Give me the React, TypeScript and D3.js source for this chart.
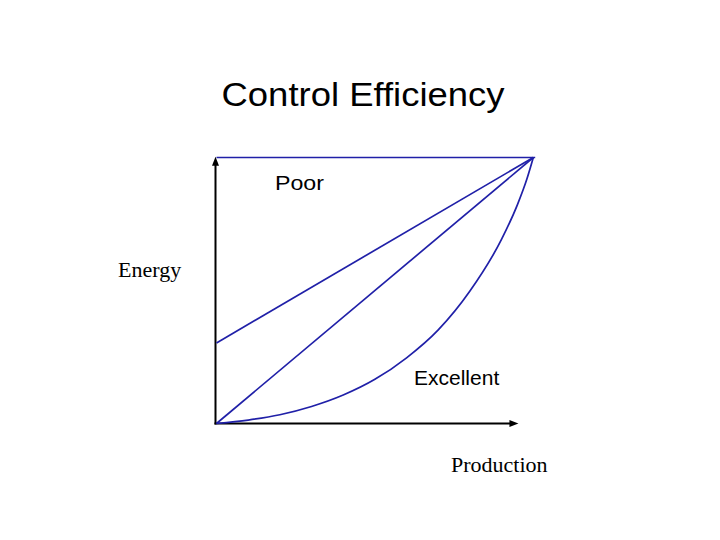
import React from 'react';
import * as d3 from 'd3';

// energy vs production, both on a 0-100 scale
const curveX = [0, 10, 20, 30, 40, 50, 60, 70, 80, 90, 95, 98, 100];
const curveY = [0, 1.3, 3.3, 6.4, 10.7, 16.6, 24.7, 35.2, 49.8, 69.3, 82.3, 92, 100];
const diagX = [0, 100];
const diagY = [0, 100];
const poorX = [0, 100];
const poorY = [30.3, 100];
const topX = [0, 100.6];
const topY = [100, 100];
const xAxisEnd = 95.3;
const yAxisEnd = 100.3;

const title = 'Control Efficiency';
const yLabel = 'Energy';
const xLabel = 'Production';
const poorLabel = 'Poor';
const excellentLabel = 'Excellent';

const BLUE = '#2020a8';

export default function App() {
  const x = d3.scaleLinear().domain([0, 100]).range([216.5, 533.3]);
  const y = d3.scaleLinear().domain([0, 100]).range([423.5, 157.5]);

  const pairs = (xs: number[], ys: number[]) =>
    xs.map((v, i) => [v, ys[i]] as [number, number]);

  const straight = d3
    .line<[number, number]>()
    .x((d) => x(d[0]))
    .y((d) => y(d[1]));
  const smooth = d3
    .line<[number, number]>()
    .x((d) => x(d[0]))
    .y((d) => y(d[1]))
    .curve(d3.curveMonotoneX);

  const ox = x(0) - 1;
  const oy = y(0);
  const xTip = x(xAxisEnd);
  const yTip = y(yAxisEnd);

  return (
    <svg
      width={720}
      height={540}
      style={{ position: 'absolute', left: 0, top: 0, background: '#fff' }}
    >
      <text
        x={363}
        y={106}
        textAnchor="middle"
        fontFamily="Liberation Sans, Arial, sans-serif"
        fontSize={34}
        textLength={283}
        lengthAdjust="spacingAndGlyphs"
      >
        {title}
      </text>

      {/* axes */}
      <line x1={ox} y1={oy + 1} x2={ox} y2={yTip + 7} stroke="#000" strokeWidth={2} />
      <polygon
        points={`${ox},${yTip} ${ox - 3.5},${yTip + 9} ${ox + 3.5},${yTip + 9}`}
        fill="#000"
      />
      <line x1={ox - 1} y1={oy} x2={xTip - 7} y2={oy} stroke="#000" strokeWidth={2} />
      <polygon
        points={`${xTip},${oy} ${xTip - 9},${oy - 3.5} ${xTip - 9},${oy + 3.5}`}
        fill="#000"
      />

      <g fill="none" stroke={BLUE} strokeWidth={1.7}>
        <path d={straight(pairs(topX, topY)) || ''} />
        <path d={straight(pairs(poorX, poorY)) || ''} />
        <path d={straight(pairs(diagX, diagY)) || ''} />
        <path d={smooth(pairs(curveX, curveY)) || ''} />
      </g>

      <g fontFamily="Liberation Sans, Arial, sans-serif" fontSize={21} fill="#000">
        <text x={275} y={190} textLength={49} lengthAdjust="spacingAndGlyphs">
          {poorLabel}
        </text>
        <text x={414} y={385}>{excellentLabel}</text>
      </g>

      <g fontFamily="Liberation Serif, Times New Roman, serif" fontSize={22} fill="#000">
        <text x={118} y={277}>{yLabel}</text>
        <text x={451} y={472}>{xLabel}</text>
      </g>
    </svg>
  );
}
